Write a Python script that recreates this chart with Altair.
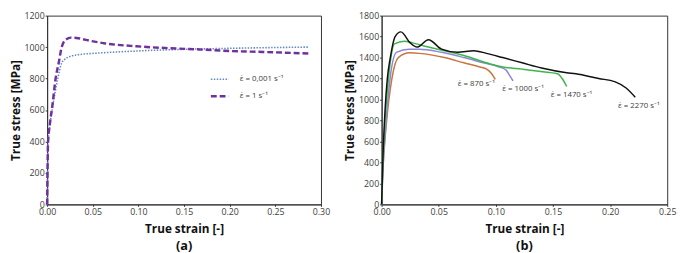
import altair as alt
import pandas as pd

# ---------- Panel (a) data ----------
a_slow_strain = [0, 0.001, 0.003, 0.006, 0.009, 0.0117, 0.016, 0.020, 0.026, 0.035, 0.050, 0.064, 0.098, 0.133, 0.167, 0.200, 0.236, 0.287]
a_slow_stress = [0, 380, 500, 620, 720, 800, 900, 925, 942, 952, 960, 965, 975, 983, 988, 992, 996, 1000]
a_fast_strain = [0, 0.001, 0.003, 0.006, 0.0093, 0.0127, 0.016, 0.020, 0.026, 0.032, 0.047, 0.064, 0.098, 0.133, 0.167, 0.200, 0.236, 0.287]
a_fast_stress = [0, 390, 510, 640, 800, 900, 1000, 1045, 1060, 1058, 1040, 1023, 1005, 993, 985, 975, 969, 959]
a_series = ["ε̇ = 0,001 s⁻¹", "ε̇ = 1 s⁻¹"]
a_x_ticks = [0, 0.05, 0.10, 0.15, 0.20, 0.25, 0.30]
a_y_ticks = [0, 200, 400, 600, 800, 1000, 1200]

# ---------- Panel (b) data ----------
b_870_strain = [0, 0.001, 0.004, 0.009, 0.0146, 0.0245, 0.033, 0.055, 0.072, 0.086, 0.092, 0.096, 0.0995]
b_870_stress = [0, 300, 750, 1200, 1400, 1445, 1440, 1400, 1350, 1310, 1290, 1250, 1193]
b_1000_strain = [0, 0.001, 0.004, 0.008, 0.013, 0.024, 0.033, 0.0525, 0.072, 0.089, 0.103, 0.109, 0.112, 0.115]
b_1000_stress = [0, 300, 800, 1250, 1450, 1480, 1480, 1450, 1400, 1350, 1310, 1280, 1230, 1178]
b_1470_strain = [0, 0.001, 0.003, 0.006, 0.0112, 0.020, 0.027, 0.041, 0.072, 0.095, 0.106, 0.123, 0.145, 0.154, 0.158, 0.162]
b_1470_stress = [0, 350, 800, 1200, 1530, 1555, 1540, 1500, 1420, 1340, 1310, 1290, 1260, 1245, 1200, 1124]
b_2270_strain = [0, 0.001, 0.003, 0.005, 0.0076, 0.0118, 0.0169, 0.025, 0.031, 0.041, 0.0525, 0.0666, 0.0806, 0.0918, 0.106, 0.123, 0.140, 0.162, 0.170, 0.190, 0.204, 0.214, 0.222]
b_2270_stress = [0, 400, 900, 1200, 1400, 1600, 1645, 1540, 1500, 1570, 1480, 1450, 1465, 1440, 1400, 1350, 1300, 1255, 1245, 1200, 1170, 1110, 1022]
b_series = ["870", "1000", "1470", "2270"]
b_colors = ["#c8743c", "#8e86d6", "#3db54a", "#111111"]
b_label_text = ["ε̇ = 870 s⁻¹", "ε̇ = 1000 s⁻¹", "ε̇ = 1470 s⁻¹", "ε̇ = 2270 s⁻¹"]
b_label_x = [0.0667, 0.1056, 0.148, 0.207]
b_label_y = [1151, 1103, 1040, 941]
b_x_ticks = [0, 0.05, 0.10, 0.15, 0.20, 0.25]
b_y_ticks = [0, 200, 400, 600, 800, 1000, 1200, 1400, 1600, 1800]

FONT = "Open Sans"

# ---------- build tables ----------
rows_a = []
for name, xs, ys in [(a_series[0], a_slow_strain, a_slow_stress), (a_series[1], a_fast_strain, a_fast_stress)]:
    for i, (x, y) in enumerate(zip(xs, ys)):
        rows_a.append({"series": name, "strain": x, "stress": y, "order": i})
df_a = pd.DataFrame(rows_a)

rows_b = []
for name, xs, ys in [("870", b_870_strain, b_870_stress), ("1000", b_1000_strain, b_1000_stress),
                     ("1470", b_1470_strain, b_1470_stress), ("2270", b_2270_strain, b_2270_stress)]:
    for i, (x, y) in enumerate(zip(xs, ys)):
        rows_b.append({"series": name, "strain": x, "stress": y, "order": i})
df_b = pd.DataFrame(rows_b)
df_lab = pd.DataFrame({"text": b_label_text, "strain": b_label_x, "stress": b_label_y})

def xaxis(vals):
    return alt.Axis(values=vals, format=".2f", title="True strain [-]", grid=False,
                    labelOverlap=False, labelFlush=False)

def yaxis(vals):
    return alt.Axis(values=vals, format="d", title="True stress [MPa]", grid=False,
                    labelOverlap=False, labelFlush=False)

# ---------- panel a ----------
line_a = alt.Chart(df_a).mark_line(interpolate="monotone").encode(
    x=alt.X("strain:Q", scale=alt.Scale(domain=[0, 0.30], nice=False), axis=xaxis(a_x_ticks)),
    y=alt.Y("stress:Q", scale=alt.Scale(domain=[0, 1200], nice=False), axis=yaxis(a_y_ticks)),
    order="order:Q",
    color=alt.Color("series:N", scale=alt.Scale(domain=a_series, range=["#5f8ac4", "#7030a0"]),
                    legend=alt.Legend(title=None, orient="none", legendX=166, legendY=55,
                                      symbolType="stroke", symbolSize=330, symbolStrokeWidth=2.2,
                                      labelFontSize=8, labelFont=FONT, labelColor="#404040",
                                      labelOffset=10, rowPadding=3)),
    strokeDash=alt.StrokeDash("series:N", scale=alt.Scale(domain=a_series, range=[[1.5, 1.5], [6, 3]]),
                              legend=None),
    strokeWidth=alt.StrokeWidth("series:N", scale=alt.Scale(domain=a_series, range=[1.6, 2.5]), legend=None),
)

chart_a = line_a.properties(
    width=280, height=193,
    title=alt.TitleParams("(a)", orient="bottom", fontSize=13, fontWeight="bold", font=FONT, offset=6, color="#111"),
)

# ---------- panel b ----------
xb = alt.X("strain:Q", scale=alt.Scale(domain=[0, 0.25], nice=False), axis=xaxis(b_x_ticks))
yb = alt.Y("stress:Q", scale=alt.Scale(domain=[0, 1800], nice=False), axis=yaxis(b_y_ticks))
line_b = alt.Chart(df_b).mark_line(interpolate="monotone", strokeWidth=1.5).encode(
    x=xb, y=yb,
    order="order:Q",
    color=alt.Color("series:N", scale=alt.Scale(domain=b_series, range=b_colors), legend=None),
)
text_b = alt.Chart(df_lab).mark_text(align="left", baseline="middle", fontSize=8, font=FONT, color="#404040").encode(
    x=xb, y=yb, text="text:N"
)
chart_b = alt.layer(line_b, text_b).properties(
    width=292, height=193,
    title=alt.TitleParams("(b)", orient="bottom", fontSize=13, fontWeight="bold", font=FONT, offset=6, color="#111"),
)

chart = alt.hconcat(chart_a, chart_b, spacing=12).resolve_scale(
    x="independent", y="independent", color="independent", strokeDash="independent", strokeWidth="independent"
).properties(padding=0).configure_view(
    stroke="#333333", strokeWidth=1
).configure_axis(
    domainColor="#333333", tickColor="#333333", tickSize=2, labelColor="#404040", labelFontSize=9,
    labelFont=FONT, labelPadding=1, titleFont=FONT, titleFontSize=12, titleFontWeight="bold",
    titleColor="#111111", titlePadding=2, labelOverlap=False, labelFlush=False,
).configure_axisX(titlePadding=8)

chart.save("out.html", embed_options={"renderer": "svg", "actions": False})
